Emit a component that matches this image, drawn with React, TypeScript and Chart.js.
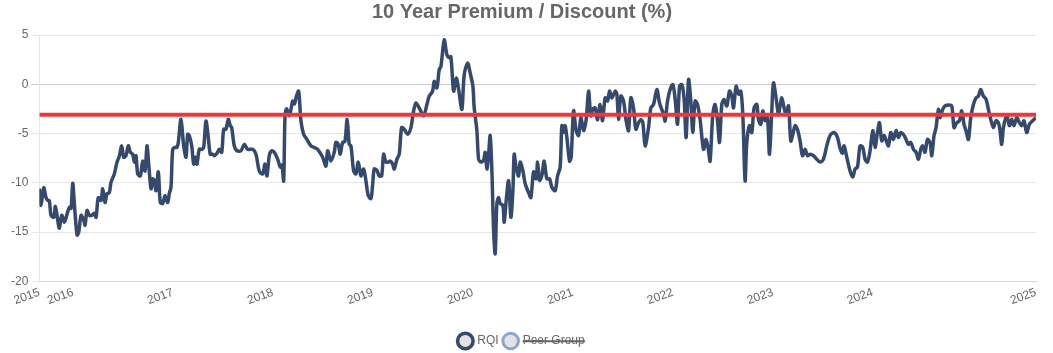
import { useEffect, useRef } from 'react';
import { Chart, registerables } from 'chart.js';

Chart.register(...registerables);

const TITLE = '10 Year Premium / Discount (%)';
const SERIES_NAME = 'RQI';
const PEER_NAME = 'Peer Group';

// Decimal-year dates of the readings
const years = [
  2015.663, 2015.680, 2015.707, 2015.730, 2015.747, 2015.763, 2015.780, 2015.807, 2015.823, 2015.847,
  2015.863, 2015.887, 2015.913, 2015.937, 2015.963, 2015.980, 2015.997, 2016.013, 2016.040, 2016.057,
  2016.080, 2016.107, 2016.120, 2016.140, 2016.163, 2016.187, 2016.213, 2016.230, 2016.253, 2016.280,
  2016.297, 2016.320, 2016.340, 2016.363, 2016.380, 2016.413, 2016.440, 2016.463, 2016.487, 2016.507,
  2016.530, 2016.553, 2016.573, 2016.597, 2016.613, 2016.630, 2016.647, 2016.673, 2016.697, 2016.720,
  2016.740, 2016.757, 2016.780, 2016.797, 2016.813, 2016.830, 2016.853, 2016.873, 2016.897, 2016.920,
  2016.947, 2016.963, 2016.980, 2016.997, 2017.020, 2017.040, 2017.053, 2017.080, 2017.107, 2017.130,
  2017.147, 2017.163, 2017.187, 2017.207, 2017.223, 2017.240, 2017.263, 2017.290, 2017.307, 2017.330,
  2017.353, 2017.373, 2017.397, 2017.413, 2017.440, 2017.463, 2017.487, 2017.507, 2017.530, 2017.553,
  2017.573, 2017.587, 2017.613, 2017.640, 2017.680, 2017.713, 2017.747, 2017.797, 2017.830, 2017.863,
  2017.897, 2017.920, 2017.940, 2017.963, 2017.987, 2018.013, 2018.047, 2018.073, 2018.090, 2018.107,
  2018.120, 2018.135, 2018.163, 2018.180, 2018.197, 2018.215, 2018.235, 2018.257, 2018.280, 2018.307,
  2018.340, 2018.380, 2018.410, 2018.447, 2018.497, 2018.530, 2018.547, 2018.580, 2018.613, 2018.630,
  2018.653, 2018.673, 2018.697, 2018.720, 2018.742, 2018.763, 2018.780, 2018.807, 2018.830, 2018.853,
  2018.880, 2018.907, 2018.930, 2018.953, 2018.980, 2018.997, 2019.013, 2019.040, 2019.063, 2019.087,
  2019.107, 2019.130, 2019.153, 2019.173, 2019.197, 2019.213, 2019.240, 2019.263, 2019.287, 2019.313,
  2019.347, 2019.380, 2019.407, 2019.430, 2019.463, 2019.507, 2019.540, 2019.563, 2019.597, 2019.613,
  2019.640, 2019.663, 2019.680, 2019.713, 2019.740, 2019.763, 2019.780, 2019.807, 2019.833, 2019.857,
  2019.890, 2019.913, 2019.947, 2019.973, 2020.000, 2020.013, 2020.040, 2020.057, 2020.080, 2020.107,
  2020.123, 2020.140, 2020.157, 2020.173, 2020.190, 2020.207, 2020.223, 2020.240, 2020.257, 2020.273,
  2020.300, 2020.313, 2020.333, 2020.357, 2020.380, 2020.400, 2020.413, 2020.433, 2020.457, 2020.473,
  2020.500, 2020.523, 2020.557, 2020.580, 2020.607, 2020.633, 2020.647, 2020.667, 2020.690, 2020.713,
  2020.740, 2020.767, 2020.790, 2020.823, 2020.847, 2020.873, 2020.890, 2020.907, 2020.923, 2020.940,
  2020.967, 2020.983, 2021.007, 2021.033, 2021.057, 2021.080, 2021.107, 2021.133, 2021.157, 2021.180,
  2021.200, 2021.223, 2021.247, 2021.273, 2021.297, 2021.323, 2021.347, 2021.367, 2021.390, 2021.423,
  2021.440, 2021.457, 2021.480, 2021.507, 2021.533, 2021.557, 2021.580, 2021.607, 2021.630, 2021.657,
  2021.680, 2021.700, 2021.723, 2021.757, 2021.780, 2021.807, 2021.840, 2021.867, 2021.907, 2021.923,
  2021.947, 2021.973, 2022.000, 2022.023, 2022.047, 2022.067, 2022.090, 2022.113, 2022.133, 2022.157,
  2022.180, 2022.200, 2022.223, 2022.247, 2022.273, 2022.307, 2022.333, 2022.357, 2022.373, 2022.400,
  2022.423, 2022.447, 2022.467, 2022.490, 2022.513, 2022.540, 2022.567, 2022.590, 2022.607, 2022.633,
  2022.657, 2022.680, 2022.700, 2022.723, 2022.740, 2022.767, 2022.790, 2022.813, 2022.840, 2022.857,
  2022.880, 2022.900, 2022.923, 2022.947, 2022.967, 2022.990, 2023.007, 2023.033, 2023.057, 2023.073,
  2023.090, 2023.113, 2023.133, 2023.157, 2023.180, 2023.200, 2023.223, 2023.247, 2023.273, 2023.297,
  2023.323, 2023.347, 2023.373, 2023.407, 2023.440, 2023.473, 2023.507, 2023.540, 2023.573, 2023.613,
  2023.647, 2023.673, 2023.697, 2023.713, 2023.740, 2023.773, 2023.800, 2023.823, 2023.847, 2023.873,
  2023.900, 2023.923, 2023.947, 2023.973, 2024.000, 2024.023, 2024.047, 2024.067, 2024.090, 2024.113,
  2024.140, 2024.157, 2024.180, 2024.207, 2024.233, 2024.257, 2024.280, 2024.307, 2024.333, 2024.357,
  2024.380, 2024.407, 2024.433, 2024.457, 2024.480, 2024.500, 2024.523, 2024.547, 2024.573, 2024.590,
  2024.613, 2024.633, 2024.657, 2024.673, 2024.700, 2024.723, 2024.757, 2024.790, 2024.813, 2024.840,
  2024.867, 2024.890, 2024.913, 2024.933, 2024.957, 2024.980, 2025.007, 2025.033, 2025.057, 2025.080,
  2025.107, 2025.133, 2025.157, 2025.180, 2025.207, 2025.233, 2025.257, 2025.273, 2025.290, 2025.307,
  2025.340, 2025.367, 2025.390, 2025.413, 2025.440, 2025.467, 2025.490, 2025.513, 2025.540, 2025.567,
  2025.600, 2025.633,
];

// Premium / discount to NAV (%)
const premium = [
  -10.6, -12.3, -10.5, -11.5, -11.8, -11.8, -13.3, -13.5, -12.4, -13.8,
  -14.6, -13.3, -14.0, -13.3, -12.5, -12.6, -10.05, -12.1, -15.3, -15.0,
  -13.3, -13.8, -14.3, -12.8, -13.3, -13.3, -13.1, -13.5, -11.5, -11.8,
  -10.6, -12.0, -11.1, -11.0, -9.95, -9.1, -7.9, -7.3, -6.25, -7.4,
  -7.25, -6.25, -6.9, -7.1, -7.9, -7.25, -9.1, -9.3, -7.8, -8.8,
  -6.25, -8.1, -10.6, -9.6, -9.8, -10.8, -8.9, -12.0, -12.1, -11.3,
  -12.0, -11.1, -10.45, -6.6, -6.4, -6.4, -5.9, -3.56, -6.25, -7.4,
  -5.07, -5.2, -6.25, -8.1, -7.4, -8.1, -6.6, -6.6, -6.4, -3.73,
  -5.4, -7.1, -7.1, -7.25, -7.0, -6.6, -6.9, -4.57, -4.57, -3.56,
  -4.2, -4.4, -6.25, -6.75, -6.75, -6.1, -6.6, -6.6, -7.1, -8.8,
  -9.1, -8.1, -9.3, -7.25, -6.75, -6.9, -7.6, -8.4, -8.2, -9.8,
  -3.4, -2.5, -3.2, -2.55, -1.7, -2.0, -1.2, -0.7, -3.7, -5.07,
  -5.6, -6.25, -6.4, -6.6, -7.4, -8.3, -6.75, -7.8, -6.9, -5.9,
  -6.1, -7.1, -5.9, -5.8, -3.56, -6.1, -6.25, -8.8, -9.1, -7.9,
  -9.3, -8.6, -9.8, -11.3, -11.6, -10.2, -8.6, -8.75, -9.3, -9.3,
  -7.1, -7.9, -7.9, -7.8, -8.1, -8.6, -7.6, -7.1, -4.4, -4.57,
  -5.07, -4.4, -2.7, -1.9, -2.4, -3.2, -2.05, -1.2, -0.7, 0.3,
  -0.37, 1.48, 1.8, 4.5, 3.0, 2.7, 2.8, -0.7, 0.63, -0.5,
  -2.55, 0.97, 2.15, 1.14, -0.2, -2.4, -4.7, -7.6, -7.9, -7.7,
  -6.9, -8.6, -7.1, -5.2, -8.8, -14.8, -17.2, -12.1, -11.5, -12.1,
  -12.3, -14.0, -11.8, -9.8, -13.5, -10.8, -7.1, -8.5, -9.3, -7.9,
  -8.8, -10.1, -11.0, -11.5, -8.9, -9.6, -7.9, -9.75, -9.25, -7.8,
  -9.6, -9.6, -10.45, -10.8, -9.3, -8.4, -4.2, -4.9, -4.2, -5.4,
  -7.8, -7.4, -2.7, -4.7, -5.2, -3.4, -4.7, -3.6, -0.7, -3.2,
  -2.5, -2.4, -3.6, -2.05, -3.7, -1.38, -1.7, -0.7, -1.4, -0.7,
  -1.0, -3.56, -1.2, -1.7, -3.7, -4.7, -1.38, -2.4, -4.57, -3.9,
  -3.6, -3.9, -6.25, -4.4, -2.4, -2.05, -0.53, -1.9, -3.05, -3.73,
  -1.7, -0.53, -0.03, -1.5, -4.06, -0.2, -0.03, -1.5, -5.4, 0.47,
  -1.7, -4.9, -1.7, -2.05, -3.6, -6.6, -5.6, -6.75, -7.8, -3.05,
  -2.05, -3.7, -5.9, -2.05, -1.55, -2.2, -0.7, -1.2, -2.4, -0.2,
  -1.0, -0.7, -3.05, -9.8, -5.9, -4.2, -4.9, -2.4, -2.05, -3.6,
  -4.06, -2.7, -3.7, -3.4, -7.1, -2.7, 0.14, -1.4, -3.05, -2.2,
  -1.38, -2.4, -3.05, -2.2, -5.75, -5.1, -4.2, -4.6, -5.75, -7.25,
  -6.6, -7.25, -7.1, -7.25, -7.6, -7.9, -7.6, -6.25, -5.2, -4.9,
  -5.4, -6.5, -7.0, -6.25, -7.4, -8.8, -9.4, -8.6, -8.4, -6.25,
  -6.4, -7.6, -7.9, -6.75, -4.7, -6.4, -4.9, -3.9, -5.75, -5.2,
  -5.9, -6.25, -4.9, -5.6, -4.7, -5.4, -4.9, -5.1, -5.6, -6.1,
  -5.9, -6.6, -6.9, -7.6, -6.6, -6.25, -6.9, -5.6, -5.9, -7.25,
  -5.2, -4.4, -2.55, -3.4, -2.55, -2.2, -2.1, -2.2, -4.4, -3.9,
  -3.7, -2.7, -4.06, -4.7, -5.6, -3.4, -2.05, -1.38, -1.2, -0.53,
  -1.2, -1.5, -2.55, -3.56, -4.4, -3.7, -3.9, -4.7, -6.1, -4.4,
  -3.2, -4.2, -3.56, -4.2, -3.4, -3.9, -4.2, -3.7, -4.9, -4.06,
  -3.7, -3.4,
];

// Peer group series is hidden in the reference view
const peerPremium: number[] = [];

// 10-year average premium / discount (%)
const averageLevel = -3.1;

// x-axis tick years (interior) and end labels
const yearTicks = [2016, 2017, 2018, 2019, 2020, 2021, 2022, 2023, 2024];
const startLabel = '2015';
const endLabel = '2025';

// y-axis range
const yMin = -20;
const yMax = 5;
const yStep = 5;

export default function App() {
  const canvasRef = useRef<HTMLCanvasElement | null>(null);

  useEffect(() => {
    if (!canvasRef.current) return;
    Chart.defaults.font.family = "'Liberation Sans', Arial, Helvetica, sans-serif";
    Chart.defaults.color = '#666666';

    const xStart = years[0];
    const xEnd = years[years.length - 1];
    const tickValues = [xStart, ...yearTicks, xEnd];
    const tickLabels = [startLabel, ...yearTicks.map(String), endLabel];

    const chart = new Chart(canvasRef.current, {
      type: 'line',
      data: {
        datasets: [
          {
            label: SERIES_NAME,
            data: years.map((x, i) => ({ x, y: premium[i] })),
            borderColor: '#34496b',
            backgroundColor: '#e3e3e3',
            borderWidth: 3.5,
            pointRadius: 0,
            tension: 0.3,
            order: 1,
          },
          {
            label: PEER_NAME,
            data: peerPremium.map((y, i) => ({ x: years[i], y })),
            borderColor: '#8ea6cf',
            backgroundColor: '#e3e3e3',
            borderWidth: 3,
            borderDash: [12, 5],
            pointRadius: 0,
            hidden: true,
            order: 2,
          },
          {
            label: 'Average',
            data: [
              { x: xStart, y: averageLevel },
              { x: xEnd, y: averageLevel },
            ],
            borderColor: '#e8393d',
            backgroundColor: '#e8393d',
            borderWidth: 4,
            pointRadius: 0,
            order: 0,
          },
        ],
      },
      options: {
        animation: false,
        responsive: true,
        maintainAspectRatio: false,
        layout: { padding: { left: 8, right: 17, top: 0, bottom: -4 } },
        plugins: {
          title: {
            display: true,
            text: TITLE,
            color: '#666666',
            font: { size: 20, weight: 'bold' },
            padding: { top: 0, bottom: 11 },
          },
          legend: {
            position: 'bottom',
            labels: {
              usePointStyle: true,
              pointStyle: 'circle',
              color: '#666666',
              font: { size: 12 },
              padding: 6,
              boxHeight: 11,
              filter: (item) => item.text !== 'Average',
            },
          },
          tooltip: { enabled: false },
        },
        scales: {
          x: {
            type: 'linear',
            min: xStart,
            max: xEnd,
            grid: { display: false, drawTicks: false },
            border: { display: true, color: '#d9d9d9' },
            afterBuildTicks: (axis) => {
              axis.ticks = tickValues.map((v) => ({ value: v }));
            },
            afterFit: (axis) => {
              axis.height += 17;
            },
            ticks: {
              autoSkip: false,
              minRotation: 20,
              maxRotation: 20,
              padding: 4,
              color: '#666666',
              font: { size: 12 },
              callback: (value) => {
                const idx = tickValues.indexOf(Number(value));
                return idx >= 0 ? tickLabels[idx] : '';
              },
            },
          },
          y: {
            min: yMin,
            max: yMax,
            border: { display: true, color: '#e6e6e6' },
            grid: {
              color: (ctx) => (ctx.tick && ctx.tick.value === 0 ? '#cccccc' : '#e6e6e6'),
              tickLength: 8,
            },
            ticks: {
              stepSize: yStep,
              color: '#666666',
              font: { size: 12 },
            },
          },
        },
      },
    });
    return () => chart.destroy();
  }, []);

  return (
    <div style={{ position: 'absolute', left: 0, top: 0, width: 1053, height: 353 }}>
      <canvas ref={canvasRef} />
    </div>
  );
}
